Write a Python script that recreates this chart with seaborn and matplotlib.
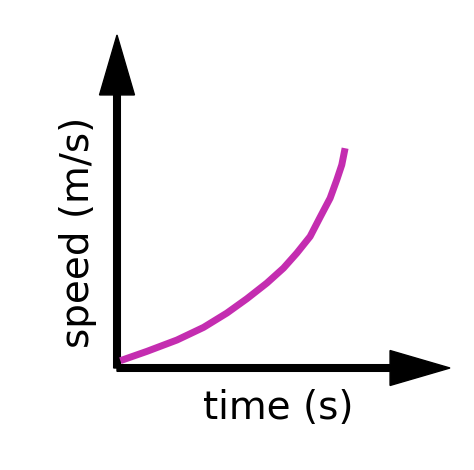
import matplotlib
matplotlib.use("Agg")
import matplotlib.pyplot as plt
import seaborn as sns
import pandas as pd

time = [0.1, 0.9, 1.8, 2.6, 3.3, 3.9, 4.5, 5.0, 5.4, 5.8, 6.1, 6.4, 6.6, 6.75, 6.85]
speed = [0.22, 0.5, 0.84, 1.22, 1.65, 2.08, 2.55, 3.0, 3.45, 3.95, 4.53, 5.1, 5.65, 6.1, 6.6]
x_label = "time (s)"
y_label = "speed (m/s)"

sns.set_style("white")
plt.rcParams['font.family'] = ['DejaVu Sans']

fig = plt.figure(figsize=(4.74, 4.70), dpi=100)
ax = fig.add_axes([117/474, (470-368)/470, (450-117)/474, (368-35)/470])
ax.set_xlim(0, 10)
ax.set_ylim(0, 10)
ax.axis('off')

df = pd.DataFrame({"time": time, "speed": speed})
sns.lineplot(data=df, x="time", y="speed", ax=ax, color="#C42DB0", lw=5,
             solid_capstyle='butt', solid_joinstyle='round', clip_on=False)

ax.arrow(0, 0, 8.2, 0, width=0.2, head_width=1.05, head_length=1.8,
         length_includes_head=False, color="black", clip_on=False)
ax.arrow(0, 0, 0, 8.2, width=0.2, head_width=1.05, head_length=1.8,
         length_includes_head=False, color="black", clip_on=False)

fig.text(278/474, 1-408/470, x_label, ha="center", va="center", fontsize=28, color="black")
fig.text(78/474, 1-232/470, y_label, ha="center", va="center", fontsize=28, rotation=90, color="black")

fig.savefig("out.png", dpi=100)
